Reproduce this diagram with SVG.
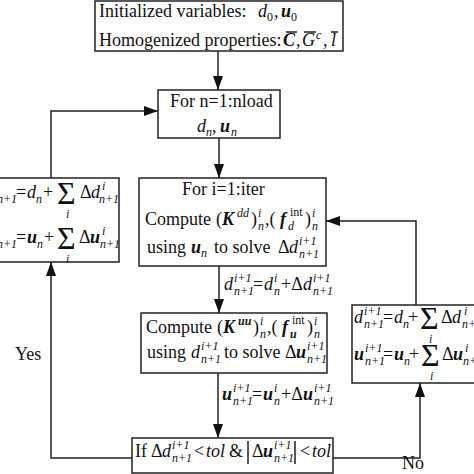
<svg xmlns="http://www.w3.org/2000/svg" width="474" height="474" viewBox="0 0 474 474">
<defs>
<style>
.r{font-family:"Liberation Serif","Times New Roman",serif;font-size:18px;fill:#111}
.i{font-style:italic}
.b{font-style:italic;font-weight:bold}
.s{font-size:12px}
.box{fill:#fff;stroke:#222;stroke-width:1.5}
.ln{fill:none;stroke:#222;stroke-width:1.5}
.c{fill:none;stroke:#222;stroke-width:1.5;marker-end:url(#ah)}
</style>
<marker id="ah" markerUnits="userSpaceOnUse" markerWidth="14" markerHeight="10" refX="14" refY="5" orient="auto">
<path d="M0,0 L14,5 L0,10 z" fill="#111"/>
</marker>
</defs>
<rect width="474" height="474" fill="#fff"/>

<g id="connectors">
<path class="c" d="M218,51 V90"/>
<path class="c" d="M219,138 V178"/>
<path class="c" d="M219,266 V313"/>
<path class="c" d="M218,373 V438"/>
<path class="c" d="M132,458 H51 V262"/>
<path class="c" d="M51,178 V111 H158"/>
<path class="c" d="M333,458 H420 V383"/>
<path class="c" d="M416,305 V221 H326"/>
<text class="r" x="15" y="360">Yes</text>
<text class="r" x="402" y="469">No</text>
<text class="r">
<tspan class="i" x="224" y="290">d</tspan><tspan class="i s" x="234" y="282">i+1</tspan><tspan class="i s" x="234" y="295">n+1</tspan><tspan x="253" y="290">=</tspan><tspan class="i" x="264" y="290">d</tspan><tspan class="i s" x="274" y="282">i</tspan><tspan class="i s" x="274" y="295">n</tspan><tspan x="281" y="290">+Δ</tspan><tspan class="i" x="303" y="290">d</tspan><tspan class="i s" x="313" y="282">i+1</tspan><tspan class="i s" x="313" y="295">n+1</tspan>
</text>
<text class="r">
<tspan class="b" x="222" y="400">u</tspan><tspan class="i s" x="233" y="392">i+1</tspan><tspan class="i s" x="233" y="405">n+1</tspan><tspan x="252" y="400">=</tspan><tspan class="b" x="263" y="400">u</tspan><tspan class="i s" x="274" y="392">i</tspan><tspan class="i s" x="274" y="405">n</tspan><tspan x="281" y="400">+Δ</tspan><tspan class="b" x="303" y="400">u</tspan><tspan class="i s" x="314" y="392">i+1</tspan><tspan class="i s" x="314" y="405">n+1</tspan>
</text>
</g>

<g id="init">
<rect class="box" x="95" y="1" width="248" height="50"/>
<text class="r"><tspan x="99" y="17">Initialized  variables:</tspan><tspan class="i" x="258" y="17">d</tspan><tspan class="s" x="267" y="21">0</tspan><tspan x="274" y="17">,</tspan><tspan class="b" x="281" y="17">u</tspan><tspan class="s" x="291" y="21">0</tspan></text>
<text class="r"><tspan x="99" y="46">Homogenized properties:</tspan><tspan class="b" x="283" y="46">C</tspan><tspan x="296" y="46">,</tspan><tspan class="i" x="302" y="46">G</tspan><tspan class="i s" x="316" y="39">c</tspan><tspan x="323" y="46">,</tspan><tspan class="i" x="331" y="46">l</tspan></text>
<path class="ln" stroke-width="1.2" d="M286,32 H297 M304,32 H316 M331,32 H338"/>
</g>

<g id="loadloop">
<rect class="box" x="158" y="90" width="122" height="48"/>
<text class="r" x="170" y="107">For n=1:nload</text>
<text class="r"><tspan class="i" x="197" y="132">d</tspan><tspan class="i s" x="206" y="136">n</tspan><tspan x="212" y="132">,</tspan><tspan class="b" x="220" y="132">u</tspan><tspan class="i s" x="231" y="136">n</tspan></text>
</g>

<g id="update-left">
<rect class="box" x="-5" y="178" width="124" height="84"/>
<text class="r"><tspan class="i" x="-13" y="198">d</tspan><tspan class="i s" x="-3" y="203">n+1</tspan><tspan x="16" y="198">=</tspan><tspan class="i" x="27" y="198">d</tspan><tspan class="i s" x="36" y="203">n</tspan><tspan x="43" y="198">+</tspan><tspan x="57" y="204" style="font-size:32px">Σ</tspan><tspan class="i s" x="66" y="218">i</tspan><tspan x="80" y="198">Δ</tspan><tspan class="i" x="91" y="198">d</tspan><tspan class="i s" x="102" y="190">i</tspan><tspan class="i s" x="99" y="203">n+1</tspan></text>
<text class="r"><tspan class="b" x="-14" y="243">u</tspan><tspan class="i s" x="-3" y="248">n+1</tspan><tspan x="16" y="243">=</tspan><tspan class="b" x="27" y="243">u</tspan><tspan class="i s" x="37" y="248">n</tspan><tspan x="44" y="243">+</tspan><tspan x="57" y="249" style="font-size:32px">Σ</tspan><tspan class="i s" x="66" y="263">i</tspan><tspan x="79" y="243">Δ</tspan><tspan class="b" x="90" y="243">u</tspan><tspan class="i s" x="102" y="235">i</tspan><tspan class="i s" x="100" y="248">n+1</tspan></text>
</g>

<g id="iterloop">
<rect class="box" x="139" y="178" width="187" height="88"/>
<text class="r" x="182" y="195">For i=1:iter</text>
<text class="r"><tspan x="145" y="225">Compute</tspan><tspan x="216" y="225">(</tspan><tspan class="b" x="222" y="225">K</tspan><tspan class="i s" x="237" y="217">dd</tspan><tspan x="251" y="225">)</tspan><tspan class="i s" x="258" y="217">i</tspan><tspan class="i s" x="258" y="230">n</tspan><tspan x="265" y="225">,(</tspan><tspan class="b" x="280" y="225">f</tspan><tspan class="s" x="290" y="216">int</tspan><tspan class="i s" x="288" y="230">d</tspan><tspan x="305" y="225">)</tspan><tspan class="i s" x="312" y="217">i</tspan><tspan class="i s" x="312" y="230">n</tspan></text>
<text class="r"><tspan x="147" y="253">using</tspan><tspan class="b" x="191" y="253">u</tspan><tspan class="i s" x="201" y="257">n</tspan><tspan x="214" y="253">to solve</tspan><tspan x="278" y="253">Δ</tspan><tspan class="i" x="289" y="253">d</tspan><tspan class="i s" x="299" y="245">i+1</tspan><tspan class="i s" x="299" y="258">n+1</tspan></text>
</g>

<g id="solve-u">
<rect class="box" x="141" y="313" width="186" height="60"/>
<text class="r"><tspan x="146" y="333">Compute</tspan><tspan x="217" y="333">(</tspan><tspan class="b" x="223" y="333">K</tspan><tspan class="b s" x="238" y="325">uu</tspan><tspan x="253" y="333">)</tspan><tspan class="i s" x="260" y="325">i</tspan><tspan class="i s" x="260" y="338">n</tspan><tspan x="267" y="333">,(</tspan><tspan class="b" x="282" y="333">f</tspan><tspan class="s" x="292" y="324">int</tspan><tspan class="b s" x="290" y="338">u</tspan><tspan x="307" y="333">)</tspan><tspan class="i s" x="314" y="325">i</tspan><tspan class="i s" x="314" y="338">n</tspan></text>
<text class="r"><tspan x="147" y="358">using</tspan><tspan class="i" x="191" y="358">d</tspan><tspan class="i s" x="201" y="350">i+1</tspan><tspan class="i s" x="201" y="363">n+1</tspan><tspan x="224" y="358">to solve</tspan><tspan x="285" y="358">Δ</tspan><tspan class="b" x="296" y="358">u</tspan><tspan class="i s" x="307" y="350">i+1</tspan><tspan class="i s" x="307" y="363">n+1</tspan></text>
</g>

<g id="update-right">
<rect class="box" x="352" y="305" width="130" height="78"/>
<text class="r"><tspan class="i" x="354" y="323">d</tspan><tspan class="i s" x="364" y="315">i+1</tspan><tspan class="i s" x="364" y="328">n+1</tspan><tspan x="383" y="323">=</tspan><tspan class="i" x="394" y="323">d</tspan><tspan class="i s" x="403" y="328">n</tspan><tspan x="408" y="323">+</tspan><tspan x="420" y="329" style="font-size:32px">Σ</tspan><tspan class="i s" x="429" y="343">i</tspan><tspan x="441" y="323">Δ</tspan><tspan class="i" x="452" y="323">d</tspan><tspan class="i s" x="464" y="315">i</tspan><tspan class="i s" x="462" y="328">n+1</tspan></text>
<text class="r"><tspan class="b" x="354" y="360">u</tspan><tspan class="i s" x="365" y="352">i+1</tspan><tspan class="i s" x="365" y="365">n+1</tspan><tspan x="383" y="360">=</tspan><tspan class="b" x="394" y="360">u</tspan><tspan class="i s" x="404" y="365">n</tspan><tspan x="409" y="360">+</tspan><tspan x="421" y="366" style="font-size:32px">Σ</tspan><tspan class="i s" x="430" y="380">i</tspan><tspan x="442" y="360">Δ</tspan><tspan class="b" x="453" y="360">u</tspan><tspan class="i s" x="465" y="352">i</tspan><tspan class="i s" x="463" y="365">n+1</tspan></text>
</g>

<g id="convergence">
<rect class="box" x="132" y="438" width="201" height="35"/>
<text class="r"><tspan x="135" y="457">If</tspan><tspan x="151" y="457">Δ</tspan><tspan class="i" x="162" y="457">d</tspan><tspan class="i s" x="172" y="449">i+1</tspan><tspan class="i s" x="172" y="462">n+1</tspan><tspan x="194" y="457">&lt;</tspan><tspan class="i" x="206" y="457">tol</tspan><tspan x="229" y="457">&amp;</tspan><tspan x="252" y="457">Δ</tspan><tspan class="b" x="263" y="457">u</tspan><tspan class="i s" x="274" y="449">i+1</tspan><tspan class="i s" x="274" y="462">n+1</tspan><tspan x="300" y="457">&lt;</tspan><tspan class="i" x="312" y="457">tol</tspan></text>
<path class="ln" stroke-width="1.2" d="M248,441 V464 M295,441 V464"/>
</g>
</svg>
